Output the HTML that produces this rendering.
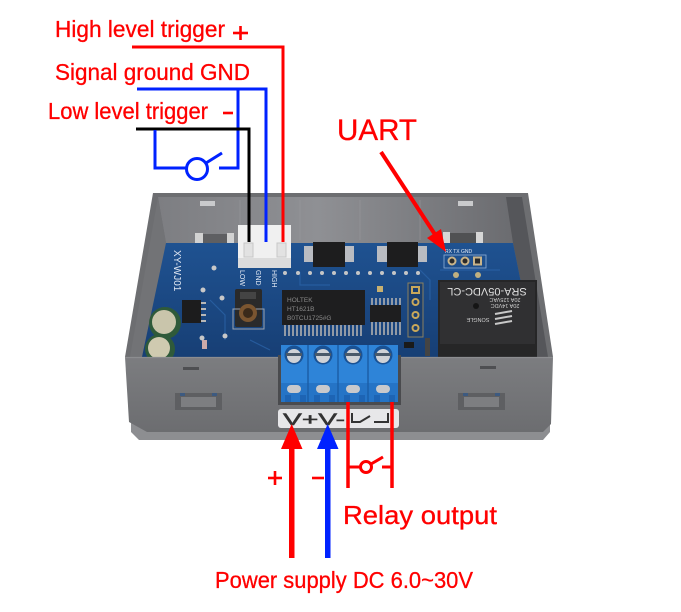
<!DOCTYPE html>
<html><head><meta charset="utf-8"><style>
html,body{margin:0;padding:0;background:#fff;}
svg{display:block;}
text{font-family:"Liberation Sans",sans-serif;}
</style></head><body>
<svg width="681" height="612" viewBox="0 0 681 612" xmlns="http://www.w3.org/2000/svg">
<defs>
<linearGradient id="bw" x1="0" x2="1" y1="0" y2="0"><stop offset="0" stop-color="#7d7e82"/><stop offset="0.45" stop-color="#8f9094"/><stop offset="1" stop-color="#6b6c70"/></linearGradient>
<linearGradient id="pcb" x1="0" x2="0" y1="0" y2="1"><stop offset="0" stop-color="#1f5291"/><stop offset="1" stop-color="#173f75"/></linearGradient>
<linearGradient id="ff" x1="0" x2="0" y1="0" y2="1"><stop offset="0" stop-color="#7c7d80"/><stop offset="1" stop-color="#6c6d70"/></linearGradient>
</defs>
<rect width="681" height="612" fill="#fff"/>

<!-- flange -->
<path d="M131,392 L550,392 L550,432 L543,440 L139,440 L131,432 Z" fill="#8d8e91"/>
<!-- box outer top rim -->
<path d="M153,193 L528,193 L553,357 L125,357 Z" fill="#6d6e71"/>
<!-- back wall -->
<path d="M158,197 L506,197 L513,243 L166,243 Z" fill="url(#bw)"/>
<g stroke="#9a9b9f" stroke-width="1" opacity="0.5">
<line x1="240" y1="200" x2="240" y2="225"/><line x1="300" y1="200" x2="300" y2="240"/><line x1="360" y1="200" x2="360" y2="240"/><line x1="420" y1="200" x2="420" y2="240"/>
</g>
<!-- left inner wall -->
<path d="M158,197 L166,243 L142,357 L130,357 Z" fill="#727376"/>
<!-- right inner wall -->
<path d="M506,197 L522,197 L548,357 L536,357 L513,243 Z" fill="#55565a"/>
<!-- top tabs -->
<rect x="200" y="201" width="15" height="5" fill="#c9cacc"/>
<rect x="458" y="201" width="15" height="5" fill="#c9cacc"/>
<!-- back wall tabs -->
<rect x="195" y="233" width="8" height="12" fill="#d2d2d2"/>
<rect x="203" y="234" width="24" height="10" fill="#5e5f62"/>
<rect x="227" y="233" width="7" height="12" fill="#d2d2d2"/>
<rect x="443" y="232" width="7" height="14" fill="#d6d6d6"/>
<rect x="450" y="233" width="26" height="12" fill="#505153"/>
<rect x="476" y="232" width="7" height="14" fill="#d6d6d6"/>

<!-- PCB -->
<path d="M166,243 L513,243 L536,357 L142,357 Z" fill="url(#pcb)"/>
<!-- traces -->
<g stroke="#2a62a6" stroke-width="1.2" fill="none" opacity="0.8">
<path d="M300,272 L300,285 L330,285"/><path d="M420,270 L430,280 L430,300"/><path d="M210,300 L225,315 L225,340"/><path d="M250,340 L270,350"/><path d="M440,270 L500,270"/>
</g>
<text transform="translate(174,250) rotate(90)" font-size="10" fill="#dfe6f2">XY-WJ01</text>

<!-- capacitors -->
<circle cx="165" cy="323" r="16" fill="#2f5a3a"/>
<circle cx="164" cy="322" r="12" fill="#c9c5ab"/>
<circle cx="160" cy="349" r="15" fill="#2f5a3a"/>
<circle cx="159" cy="348" r="11" fill="#cfcab0"/>
<!-- 8 pin IC -->
<rect x="182" y="300" width="19" height="23" fill="#1c1c1d"/>
<g stroke="#b8b8b8" stroke-width="2"><line x1="201" y1="303" x2="206" y2="303"/><line x1="201" y1="309" x2="206" y2="309"/><line x1="201" y1="315" x2="206" y2="315"/><line x1="201" y1="321" x2="206" y2="321"/></g>
<!-- inductor -->
<rect x="235" y="289" width="27" height="38" fill="#2a2a2a" rx="2"/>
<rect x="233" y="309" width="31" height="20" fill="none" stroke="#9aa3b0" stroke-width="1"/>
<circle cx="248" cy="313" r="9" fill="#7a5530"/>
<circle cx="248" cy="313" r="5" fill="#3a2a1a"/>
<rect x="240" y="292" width="16" height="7" fill="#444"/>
<!-- small parts -->
<g fill="#c8c8c8"><circle cx="203" cy="290" r="2.5"/><circle cx="222" cy="298" r="2.5"/><circle cx="225" cy="336" r="2.5"/><circle cx="202" cy="338" r="2.5"/><circle cx="214" cy="268" r="2.5"/></g>
<rect x="202" y="340" width="5" height="9" fill="#caa"/>

<!-- white connector -->
<rect x="238" y="225" width="53" height="43" fill="#f0f0f0"/>
<rect x="238" y="258" width="53" height="10" fill="#dcdcdc"/>
<rect x="244" y="243" width="9" height="14" fill="#e2e2e2" stroke="#c8c8c8"/>
<rect x="277" y="243" width="9" height="14" fill="#e2e2e2" stroke="#c8c8c8"/>
<g font-size="7" fill="#e6ecf6">
<text transform="translate(240,270) rotate(90)">LOW</text>
<text transform="translate(256,270) rotate(90)">GND</text>
<text transform="translate(272,270) rotate(90)">HIGH</text>
</g>
<!-- vias row -->
<g fill="#c6c6c6">
<circle cx="285" cy="273" r="2"/><circle cx="298" cy="273" r="2"/><circle cx="310" cy="273" r="2"/><circle cx="322" cy="273" r="2"/><circle cx="334" cy="273" r="2"/><circle cx="346" cy="273" r="2"/><circle cx="358" cy="273" r="2"/><circle cx="370" cy="273" r="2"/><circle cx="382" cy="273" r="2"/><circle cx="394" cy="273" r="2"/><circle cx="406" cy="273" r="2"/><circle cx="418" cy="273" r="2"/>
</g>
<!-- optocouplers -->
<g>
<rect x="304" y="246" width="50" height="16" fill="#b9bcc2"/>
<rect x="313" y="242" width="32" height="25" fill="#1d1d1e"/>
<rect x="377" y="246" width="50" height="16" fill="#b9bcc2"/>
<rect x="387" y="242" width="31" height="25" fill="#1d1d1e"/>
</g>
<!-- HOLTEK chip -->
<rect x="282" y="290" width="83" height="35" fill="#1e1e1f"/>
<g font-size="6.5" fill="#8a8a8a" font-family="Liberation Mono, monospace">
<text x="287" y="302">HOLTEK</text><text x="287" y="311">HT1621B</text><text x="287" y="320">B0TCU1725#G</text>
</g>
<g stroke="#b0b0b0" stroke-width="1.6">
<path d="M285,325V336M289,325V336M293,325V336M297,325V336M301,325V336M305,325V336M309,325V336M313,325V336M317,325V336M321,325V336M325,325V336M329,325V336M333,325V336M337,325V336M341,325V336M345,325V336M349,325V336M353,325V336M357,325V336M361,325V336"/>
<path d="M372,298V305M376,298V305M380,298V305M384,298V305M388,298V305M392,298V305M396,298V305M400,298V305M372,322V335M376,322V335M380,322V335M384,322V335M388,322V335M392,322V335M396,322V335M400,322V335"/>
</g>
<rect x="370" y="305" width="31" height="17" fill="#1e1e1f"/>
<rect x="377" y="286" width="6" height="6" fill="#c8b070"/>
<!-- 4-pin header -->
<rect x="408" y="283" width="15" height="54" fill="#1a3e6e" stroke="#8a8060" stroke-width="1"/>
<g fill="none" stroke="#c9a85a" stroke-width="2"><rect x="412" y="287" width="7" height="6"/><circle cx="415.5" cy="302" r="3"/><circle cx="415.5" cy="315" r="3"/><circle cx="415.5" cy="328" r="3"/></g>
<!-- UART header -->
<g font-size="5" fill="#e6ecf6"><text x="445" y="253">RX TX GND</text></g>
<rect x="444" y="255" width="42" height="13" fill="none" stroke="#8fb0d8" stroke-width="0.8"/>
<g fill="#2a2a2a" stroke="#c9b48a" stroke-width="2"><circle cx="452" cy="261" r="3.5"/><circle cx="465" cy="261" r="3.5"/><rect x="474" y="257.5" width="7" height="7"/></g>
<circle cx="456" cy="275" r="3" fill="#c0b080"/><circle cx="478" cy="275" r="3" fill="#c0b080"/>
<!-- relay -->
<rect x="438" y="280" width="99" height="77" fill="#262627"/>
<rect x="440" y="282" width="95" height="62" fill="#303032"/>
<text transform="rotate(180,487,292)" x="487" y="296" font-size="11" fill="#e0e0e0" text-anchor="middle">SRA-05VDC-CL</text>
<g fill="#d0d0d0" font-size="5.5">
<text transform="rotate(180,505,306)" x="505" y="308" text-anchor="middle">20A 14VDC</text>
<text transform="rotate(180,505,300)" x="505" y="302" text-anchor="middle">20A 125VAC</text>
<text transform="rotate(180,478,320)" x="478" y="322" text-anchor="middle">SONGLE</text>
</g>
<g stroke="#c8c8c8" stroke-width="2"><line x1="495" y1="314" x2="512" y2="311"/><line x1="495" y1="319" x2="512" y2="316"/><line x1="495" y1="324" x2="512" y2="321"/></g>
<circle cx="476" cy="306" r="3" fill="#151515"/>
<!-- small parts near terminal -->
<rect x="404" y="342" width="10" height="6" fill="#1a1a1a"/>
<rect x="425" y="338" width="5" height="18" fill="#444"/>

<!-- front face -->
<path d="M125,357 L553,357 L551,424 L543,432 L147,432 L129,422 Z" fill="url(#ff)"/>
<line x1="125" y1="357.5" x2="553" y2="357.5" stroke="#8c8d90" stroke-width="1.2"/>
<!-- small slots on front -->
<rect x="183" y="367" width="16" height="3" fill="#4e4f52"/>
<rect x="480" y="366" width="16" height="3" fill="#4e4f52"/>
<!-- clip windows -->
<path d="M175,393 h47 v17 h-47 Z" fill="#5e5f62"/>
<path d="M181,397 h35 v10 h-35 Z" fill="#7d7e81"/>
<rect x="180" y="393" width="5" height="3" fill="#3d5a80"/><rect x="212" y="393" width="5" height="3" fill="#3d5a80"/>
<path d="M458,393 h47 v17 h-47 Z" fill="#5e5f62"/>
<path d="M464,397 h35 v10 h-35 Z" fill="#7d7e81"/>
<rect x="463" y="393" width="5" height="3" fill="#3d5a80"/><rect x="495" y="393" width="5" height="3" fill="#3d5a80"/>

<!-- terminal block -->
<rect x="278" y="355" width="123" height="50" fill="#4a4b4e"/>
<rect x="281" y="345" width="117" height="57" fill="#2e84d8"/>
<rect x="281" y="383" width="117" height="19" fill="#2574c6"/>
<g stroke="#1b5ea8" stroke-width="1.5"><line x1="308" y1="345" x2="308" y2="402"/><line x1="338" y1="345" x2="338" y2="402"/><line x1="368" y1="345" x2="368" y2="402"/></g>
<g>
<circle cx="294" cy="355" r="9.5" fill="#1a5294"/><circle cx="294" cy="356" r="7" fill="#cfd2d6"/><rect x="286" y="353" width="16" height="3" fill="#4a5a6a"/>
<circle cx="323" cy="355" r="9.5" fill="#1a5294"/><circle cx="323" cy="356" r="7" fill="#cfd2d6"/><rect x="315" y="353" width="16" height="3" fill="#4a5a6a"/>
<circle cx="353" cy="355" r="9.5" fill="#1a5294"/><circle cx="353" cy="356" r="7" fill="#cfd2d6"/><rect x="345" y="353" width="16" height="3" fill="#4a5a6a"/>
<circle cx="383" cy="355" r="9.5" fill="#1a5294"/><circle cx="383" cy="356" r="7" fill="#cfd2d6"/><rect x="375" y="353" width="16" height="3" fill="#4a5a6a"/>
</g>
<g fill="#c8c9cc">
<rect x="287" y="385" width="14" height="8" rx="4"/><rect x="316" y="385" width="14" height="8" rx="4"/><rect x="346" y="385" width="14" height="8" rx="4"/><rect x="376" y="385" width="14" height="8" rx="4"/>
</g>
<g fill="#1d64b4">
<rect x="285" y="395" width="6" height="7"/><rect x="300" y="395" width="6" height="7"/><rect x="314" y="395" width="6" height="7"/><rect x="329" y="395" width="6" height="7"/><rect x="344" y="395" width="6" height="7"/><rect x="359" y="395" width="6" height="7"/><rect x="374" y="395" width="6" height="7"/><rect x="389" y="395" width="6" height="7"/>
</g>

<!-- label -->
<rect x="278" y="409" width="121" height="19" rx="3" fill="#e7e7e9"/>
<text x="283" y="425" font-size="17" fill="#333" stroke="#333" stroke-width="0.5" textLength="62" lengthAdjust="spacingAndGlyphs">V+V-</text>
<path d="M352,413 V422 H360 L370,416 M374,422 H388 V413" fill="none" stroke="#333" stroke-width="2"/>

<!-- ===== annotations ===== -->
<g fill="#ff0000" stroke="#ff0000" stroke-width="0.3" font-size="23">
<text x="55" y="37" textLength="170" lengthAdjust="spacingAndGlyphs">High level trigger</text>
<text x="55" y="80" textLength="195" lengthAdjust="spacingAndGlyphs">Signal ground GND</text>
<text x="48" y="119" textLength="160" lengthAdjust="spacingAndGlyphs">Low level trigger</text>
</g>
<g stroke="#ff0000" stroke-width="2.6">
<line x1="233" y1="33" x2="248" y2="33"/><line x1="240.5" y1="26" x2="240.5" y2="40"/>
<line x1="223" y1="113" x2="233" y2="113"/>
</g>

<!-- top wires -->
<g fill="none" stroke-width="3" stroke-linejoin="miter">
<path d="M132,47 H283 V242" stroke="#ff0000"/>
<path d="M137,89 H266 V242" stroke="#0022ff"/>
<path d="M238,89 V168 H219" stroke="#0022ff"/>
<path d="M136,129 H249 V242" stroke="#000"/>
<path d="M155,130 V168 H186" stroke="#0022ff"/>
<circle cx="197" cy="169" r="10.5" stroke="#0022ff"/>
<line x1="206" y1="163" x2="222" y2="153" stroke="#0022ff"/>
</g>

<!-- UART -->
<text x="337" y="140" font-size="30" fill="#ff0000" stroke="#ff0000" stroke-width="0.3" textLength="80" lengthAdjust="spacingAndGlyphs">UART</text>
<line x1="381" y1="152" x2="436" y2="236" stroke="#ff0000" stroke-width="4"/>
<polygon points="446,252 427,238 441,229" fill="#ff0000"/>

<!-- power arrows -->
<rect x="289" y="445" width="5.5" height="113" fill="#ff0000"/>
<polygon points="291.7,424 281,449 302.5,449" fill="#ff0000"/>
<rect x="325" y="445" width="5.5" height="113" fill="#0022ff"/>
<polygon points="327.7,424 317,449 338.5,449" fill="#0022ff"/>
<g stroke="#ff0000" stroke-width="2.6">
<line x1="268" y1="478" x2="282" y2="478"/><line x1="275" y1="471" x2="275" y2="485"/>
<line x1="312" y1="478" x2="324" y2="478"/>
</g>

<!-- relay output lines -->
<g fill="none" stroke="#ff0000" stroke-width="3.5">
<line x1="348" y1="402" x2="348" y2="488"/>
<line x1="392" y1="402" x2="392" y2="488"/>
</g>
<g fill="none" stroke="#ff0000" stroke-width="3">
<line x1="348" y1="467" x2="360" y2="467"/>
<circle cx="366" cy="467" r="5.5"/>
<line x1="371" y1="464" x2="383" y2="457"/>
<line x1="382" y1="467" x2="392" y2="467"/>
</g>
<text x="343" y="524" font-size="26" fill="#ff0000" stroke="#ff0000" stroke-width="0.3" textLength="154" lengthAdjust="spacingAndGlyphs">Relay output</text>
<text x="215" y="588" font-size="23.5" fill="#ff0000" stroke="#ff0000" stroke-width="0.3" textLength="258" lengthAdjust="spacingAndGlyphs">Power supply DC 6.0~30V</text>
</svg>
</body></html>
